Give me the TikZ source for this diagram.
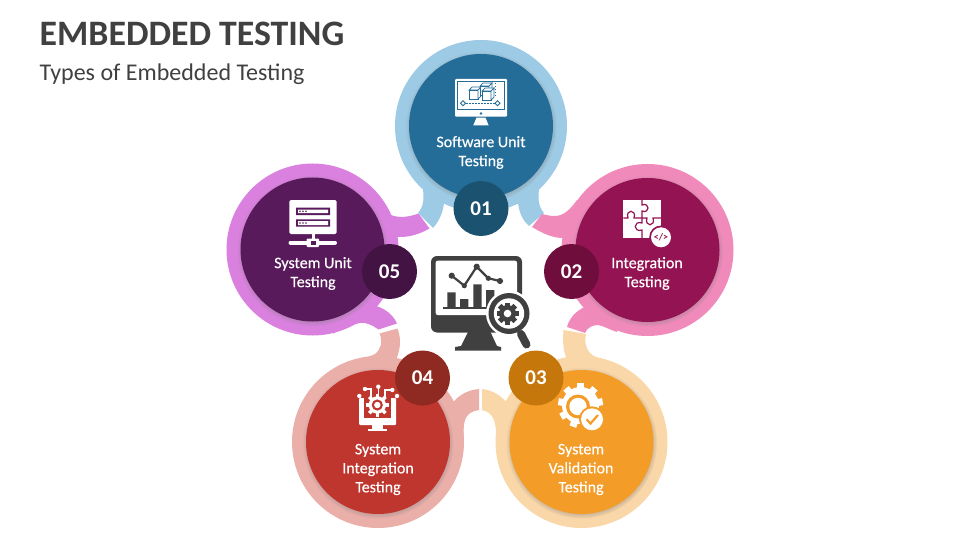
\documentclass[tikz,border=0pt]{standalone}
\usepackage{fontspec}
\setmainfont{Carlito}
\newfontfamily\heavylabel[FakeBold=0.35]{Carlito}
\usetikzlibrary{shadows}
\definecolor{inkgrey}{HTML}{404040}
\definecolor{blueA}{HTML}{256D99}
\definecolor{blueB}{HTML}{9DCAE4}
\definecolor{blueC}{HTML}{1B5270}
\definecolor{pinkA}{HTML}{941352}
\definecolor{pinkB}{HTML}{F08ABB}
\definecolor{pinkC}{HTML}{6F0E3D}
\definecolor{amberA}{HTML}{F39C28}
\definecolor{amberB}{HTML}{FAD7A8}
\definecolor{amberC}{HTML}{C5770B}
\definecolor{redA}{HTML}{BE362E}
\definecolor{redB}{HTML}{EBAFAA}
\definecolor{redC}{HTML}{8F2A22}
\definecolor{plumA}{HTML}{591A5B}
\definecolor{plumB}{HTML}{DA80DE}
\definecolor{plumC}{HTML}{431344}
\tikzset{
	hub/.style={circle,minimum size=144pt,inner sep=0pt,circular drop shadow={shadow xshift=0pt,shadow yshift=-1pt,shadow scale=1.05,opacity=.8}},
	band/.style={circle,minimum size=172pt,inner sep=0pt},
	badge/.style={circle,minimum size=55pt,inner sep=0pt,text=white,font=\fontsize{21}{24}\selectfont\bfseries},
	hublabel/.style={text=white,align=center,inner sep=0pt,font=\fontsize{16}{19}\selectfont\heavylabel},
	cubeicon/.pic={
		\draw[blueA,line width=.7pt,fill=white] (-6,-2) rectangle (3,7);
		\draw[blueA,line width=.7pt,fill=white] (-6,-2) -- (-3,-5) -- (6,-5) -- (3,-2) -- cycle;
		\draw[blueA,line width=.7pt,fill=white] (3,-2) -- (6,-5) -- (6,4) -- (3,7) -- cycle;
	}
}
\begin{document}
\begin{tikzpicture}[x=1pt,y=-1pt]
	\useasboundingbox (0,0) rectangle (960,540);
	\node[anchor=base west,inner sep=0pt,text=inkgrey,font=\fontsize{35.8}{40}\selectfont\bfseries] (title) at (39.5,46) {EMBEDDED TESTING};
	\node[anchor=base west,inner sep=0pt,text=inkgrey,font=\fontsize{24}{28}\selectfont] (subtitle) at (39.5,80.5) {Types of Embedded Testing};

	% outer bands with their tails
	\node[band,fill=blueB] (band01) at (481,126) {};
	\fill[blueB] (423,190) .. controls (424,198) and (424,206) .. (418,213) -- (433,228)
		.. controls (441,219) and (445,208) .. (444.5,192) -- (470,170) -- cycle;
	\fill[blueB] (539,190) .. controls (538,198) and (538,206) .. (544,213) -- (529,226)
		.. controls (521,219) and (517,208) .. (517.5,192) -- (492,170) -- cycle;

	\node[band,fill=pinkB] (band02) at (647.5,250) {};
	\fill[pinkB] (577,200) .. controls (570,210) and (563,216) .. (555,216) .. controls (550,216) and (546,215) .. (542,214) -- (532,227)
		.. controls (542,233) and (552,238) .. (563,238) .. controls (568,238) and (572,237) .. (577,236) -- (610,220) -- cycle;
	\fill[pinkB] (617,332) .. controls (610,330) and (604,326) .. (598,325) .. controls (592,325) and (587,328) .. (585,333) -- (567,327)
		.. controls (570,315) and (582,304) .. (600,304) -- (620,290) -- cycle;

	\node[band,fill=amberB] (band03) at (581.5,442) {};
	\fill[amberB] (482,389) .. controls (494,390) and (506,398) .. (513,412) -- (530,440) -- (497,440)
		.. controls (496,432) and (496,426) .. (494,420) .. controls (492,415) and (488,411) .. (482,410) -- cycle;
	\fill[amberB] (563.5,330) .. controls (562,345) and (564,358) .. (573,371) -- (600,390) -- (617,364)
		.. controls (608,361) and (600,359) .. (594,356) .. controls (587,352) and (584,344) .. (586,334) -- cycle;

	\node[band,fill=redB] (band04) at (378,442) {};
	\fill[redB] (479,389) .. controls (466,390) and (454,397) .. (447,412) -- (430,440) -- (463.5,440)
		.. controls (464,432) and (463,426) .. (465,420) .. controls (467,414) and (472,411) .. (479,410) -- cycle;
	\fill[redB] (379.5,333.5) .. controls (383,342) and (381,349) .. (375,354) .. controls (368,358) and (350,360) .. (337,367)
		-- (370,390) -- (395,362) .. controls (400,352) and (402,340) .. (397.5,328.5) -- cycle;

	\node[band,fill=plumB] (band05) at (312.5,249.5) {};
	\fill[plumB] (377,205) .. controls (383,212) and (390,216) .. (400,217) .. controls (406,217) and (412,216) .. (418.5,213.5) -- (429.5,228.5)
		.. controls (420,234) and (410,237) .. (400,237) .. controls (394,237) and (389,235) .. (384,232) -- (350,220) -- cycle;
	\fill[plumB] (333,333.5) .. controls (342,329) and (350,325) .. (360,323) .. controls (366,322) and (372,325) .. (378.5,329.5) -- (397,323.5)
		.. controls (392,312) and (380,305) .. (363,303) -- (330,300) -- cycle;

	% main discs
	\node[hub,fill=blueA] (unit01) at (481,126) {};
	\node[hub,fill=pinkA] (unit02) at (647.5,250) {};
	\node[hub,fill=amberA] (unit03) at (581.5,442) {};
	\node[hub,fill=redA] (unit04) at (378,442) {};
	\node[hub,fill=plumA] (unit05) at (312.5,249.5) {};

	\node[badge,fill=blueC] (badge01) at (481,208.5) {01};
	\node[badge,fill=pinkC] (badge02) at (571.5,271.5) {02};
	\node[badge,fill=amberC] (badge03) at (536,378) {03};
	\node[badge,fill=redC] (badge04) at (422.5,378) {04};
	\node[badge,fill=plumC] (badge05) at (389.5,271.5) {05};

	\node[hublabel] (label01) at (481,152.5) {Software Unit\\Testing};
	\node[hublabel] (label02) at (647,273.5) {Integration\\Testing};
	\node[hublabel] (label03) at (581,469.5) {System\\Validation\\Testing};
	\node[hublabel] (label04) at (378,469.5) {System\\Integration\\Testing};
	\node[hublabel] (label05) at (313,273.5) {System Unit\\Testing};

	% icon 01
	\fill[white,rounded corners=1pt] (455,79) rectangle (507,116.7);
	\draw[blueA,line width=.8pt] (457.5,81.5) rectangle (504.5,109.5);
	\fill[blueA] (481,113.5) circle (1.3pt);
	\fill[white] (476.5,117.7) -- (485.5,117.7) -- (488.7,125.5) -- (473.2,125.5) -- cycle;
	\pic at (475,92) {cubeicon};
	\pic at (486,88) {cubeicon};
	\pic at (488,93) {cubeicon};
	\draw[blueA,line width=.8pt,dash pattern=on 1.5pt off 1.5pt] (466,103.3) -- (495,103.3);
	\draw[blueA,line width=.8pt,dash pattern=on 1.5pt off 1.5pt] (495.5,83) -- (495.5,98);
	\draw[blueA,line width=.8pt] (463,100.8) -- (465.5,103.3) -- (463,105.8) -- (460.5,103.3) -- cycle;
	\draw[blueA,line width=.8pt] (497.5,100.8) -- (500,103.3) -- (497.5,105.8) -- (495,103.3) -- cycle;

	% icon 02
	\fill[white] (623.3,200) rectangle (661.3,238.3);
	\draw[pinkA,line width=1.2pt] (642,200) -- (642,205) .. controls (650,202) and (650,214) .. (642,211) -- (642,218);
	\draw[pinkA,line width=1.2pt] (623.3,218) -- (628,218) .. controls (625,209) and (637,209) .. (634,218) -- (642,218)
		-- (647,218) .. controls (644,227) and (656,227) .. (653,218) -- (661.3,218);
	\draw[pinkA,line width=1.2pt] (642,218) -- (642,223) .. controls (633,220) and (633,233) .. (642,230) -- (642,238.3);
	\fill[pinkA] (661,237.3) circle (11.8pt);
	\fill[white] (661,237.3) circle (10pt);
	\node[text=pinkA,inner sep=0pt,font=\fontsize{10}{10}\selectfont\bfseries] (codetag) at (661,237.3) {</>};

	% icon 03
	\foreach \a in {0,40,...,320}
		\fill[white,rotate around={\a:(580.5,405.5)}] (577,383) rectangle (584,392);
	\fill[white] (580.5,405.5) circle (18.5pt);
	\fill[amberA] (578,406.5) circle (12pt);
	\fill[white] (578,406.5) circle (8.7pt);
	\fill[amberA] (592,419.3) circle (13pt);
	\fill[white] (592,419.3) circle (11pt);
	\draw[amberA,line width=2.2pt] (586.5,419.3) -- (590.5,423.5) -- (598,415);

	% icon 04
	\fill[white,rounded corners=1pt] (359,398) rectangle (396,425);
	\fill[redA] (364,394) rectangle (391,418);
	\fill[white] (372,425) rectangle (383,429.5);
	\fill[white] (367.5,429) rectangle (386.5,431);
	\draw[white,line width=1.2pt] (365,389) -- (371,389) -- (371,398);
	\draw[white,line width=1.2pt] (378.3,387) -- (378.3,396);
	\draw[white,line width=1.2pt] (392.3,390) -- (385,390) -- (385,398);
	\fill[white] (359.3,396) circle (2.2pt) (397,396) circle (2.2pt) (365,389) circle (2.2pt)
		(378.3,386.7) circle (2.2pt) (392.3,390) circle (2.2pt);
	\foreach \a in {0,45,...,315}
		\fill[white,rotate around={\a:(377.3,405)}] (375.5,393.5) rectangle (379.1,399);
	\fill[white] (377.3,405) circle (8.7pt);
	\fill[redA] (377.3,405) circle (5.6pt);
	\fill[white] (377.3,405) circle (3.2pt);

	% icon 05
	\fill[white,rounded corners=1.5pt] (289.3,200) rectangle (336.7,234);
	\fill[plumA] (296,207.7) rectangle (330,215) (296,219.3) rectangle (330,226.7);
	\fill[white] (298,209.5) rectangle (328,213.2) (298,221) rectangle (328,225);
	\foreach \y in {211.3,223}
		\fill[plumA] (300,\y) circle (.9pt) (303,\y) circle (.9pt) (306,\y) circle (.9pt);
	\fill[white] (311.5,234) rectangle (314.5,240);
	\draw[white,line width=4pt,line cap=round] (290.5,242.5) -- (335,242.5);
	\fill[white,rounded corners=1pt] (306.5,238.5) rectangle (319,247);
	\fill[plumA] (310.5,241) rectangle (315.5,244.5);

	% centre icon
	\fill[inkgrey,rounded corners=6pt] (431,256) rectangle (522,332.5);
	\fill[white,rounded corners=2pt] (435.7,260.7) rectangle (517,315);
	\fill[inkgrey] (468.5,331) -- (490,331) -- (497,346) -- (501,347) -- (501,350.5) -- (455,350.5) -- (455,347) -- (461,346) -- cycle;
	\fill[inkgrey] (447.3,292.3) rectangle (455.7,307) (460,299) rectangle (468.3,307)
		(473.3,284.3) rectangle (481.7,307) (486,290) rectangle (494.3,307);
	\fill[inkgrey] (443.3,307) rectangle (489,308.5);
	\draw[inkgrey,line width=2.2pt] (451.7,275.7) -- (464.3,285.7) -- (476.7,266.7) -- (488.3,278.3) -- (500,281);
	\fill[inkgrey] (451.7,275.7) circle (3.1pt) (464.3,285.7) circle (2.6pt) (476.7,266.7) circle (3.1pt)
		(488.3,278.3) circle (2.6pt) (500,281) circle (3.1pt);
	\fill[white] (509,313.5) circle (23pt);
	\draw[inkgrey,line width=8pt,line cap=round] (521,334) -- (526.5,344.5);
	\fill[inkgrey] (509,313.5) circle (20.5pt);
	\fill[white] (509,313.5) circle (15.2pt);
	\foreach \a in {0,45,...,315}
		\fill[inkgrey,rotate around={\a:(507.5,313.5)}] (505,302.5) rectangle (510,307);
	\fill[inkgrey] (507.5,313.5) circle (8.5pt);
	\fill[white] (507.5,313.5) circle (3.8pt);
\end{tikzpicture}
\end{document}
